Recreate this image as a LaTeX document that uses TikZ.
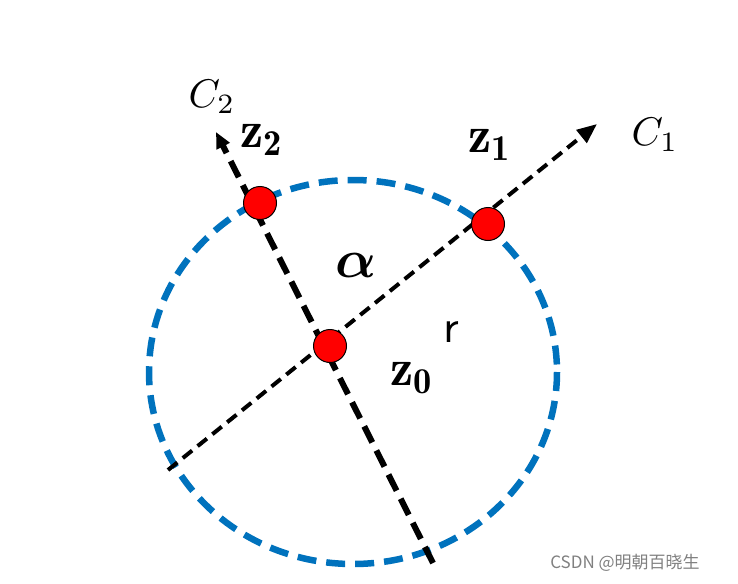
\documentclass[tikz,border=0pt]{standalone}
\usepackage{amsmath,bm,graphicx}
\usepackage{fontspec}
\newfontfamily\cjk{Noto Sans CJK SC}
\usetikzlibrary{arrows.meta}
\newcommand{\bigtx}[2]{\scalebox{#1}{#2}}
\tikzset{
 dot/.style={circle,fill=red,draw=black,line width=1pt,minimum size=33pt,inner sep=0pt},
 axisA/.style={line width=4pt,dash pattern=on 12pt off 7pt,-{Triangle[length=20pt,width=16pt]}},
 axisB/.style={line width=6pt,dash pattern=on 18pt off 9pt,-{Triangle[length=16pt,width=14pt]}},
 lab/.style={inner sep=0pt}
}
\begin{document}
\begin{tikzpicture}[x=1pt,y=-1pt]
\useasboundingbox (0,0) rectangle (738,583);
\draw[color={rgb,255:red,0;green,114;blue,189},line width=6.5pt,dash pattern=on 19pt off 10pt] (353,372) ellipse [x radius=204, y radius=192];
\coordinate (a1) at (168,470);
\coordinate (b1) at (597,124);
\coordinate (a2) at (433,563);
\coordinate (b2) at (216,132);
\draw[axisA] (a1) -- (b1);
\draw[axisB] (a2) -- (b2);
\node[dot] (z0) at (330,346) {};
\node[dot] (z2) at (260,203) {};
\node[dot] (z1) at (488,224) {};
\node[lab] (C2) at (212,97) {\bigtx{4}{$C_2$}};
\node[lab] (C1) at (655,135) {\bigtx{4}{$C_1$}};
\node[lab] (lz2) at (262,140) {\bigtx{5.2}{$\mathbf{z}_{\mathbf 2}$}};
\node[lab] (lz1) at (490,145) {\bigtx{5.2}{$\mathbf{z}_{\mathbf 1}$}};
\node[lab] (lz0) at (412,378) {\bigtx{5.2}{$\mathbf{z}_{\mathbf 0}$}};
\node[lab] (al) at (356,265) {\bigtx{5.4}{$\bm{\alpha}$}};
\node[lab] (r) at (451,332) {\bigtx{4.6}{\sffamily r}};
\node[font=\cjk\fontsize{17}{19}\selectfont,text=gray] (wm) at (625,563) {CSDN @明朝百晓生};
\end{tikzpicture}
\end{document}
